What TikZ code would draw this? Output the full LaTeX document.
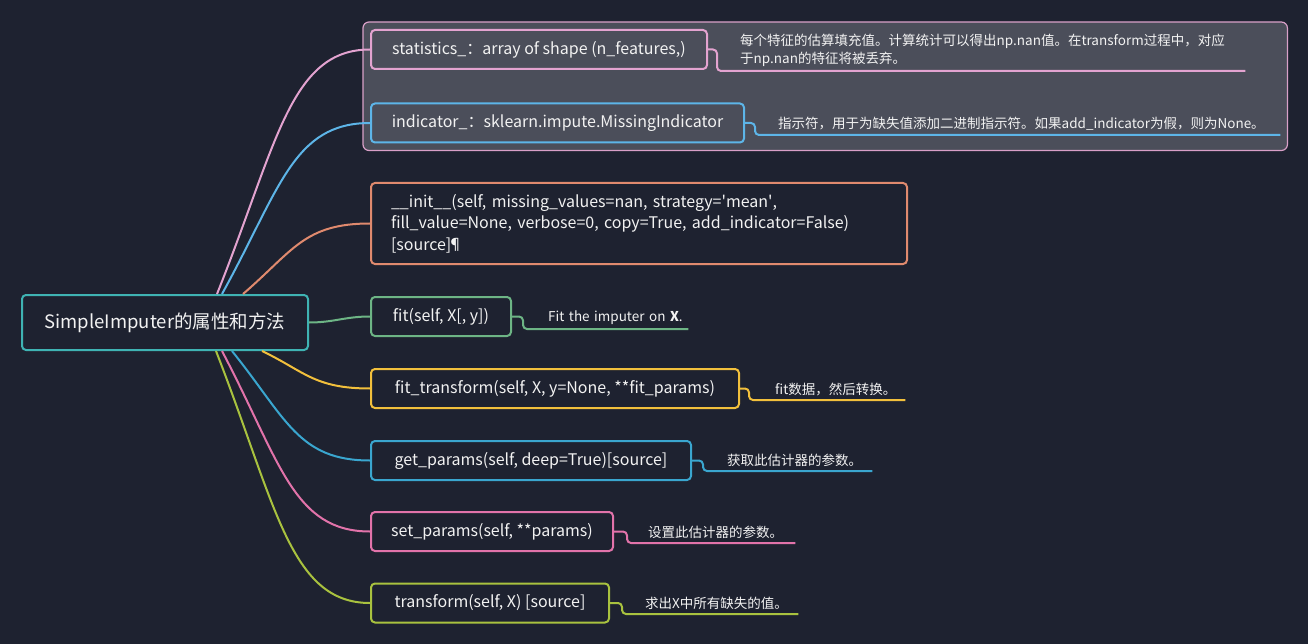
\documentclass[tikz,border=0pt]{standalone}
\usepackage{fontspec}
\setmainfont{Noto Sans CJK SC}
\usepackage{xcolor}
\usetikzlibrary{positioning,fit,backgrounds}

\definecolor{bgcol}{HTML}{1E2230}
\definecolor{groupcol}{HTML}{4B4E5A}
\definecolor{groupline}{HTML}{D9A0C8}
\definecolor{rootline}{HTML}{3FB3B3}
\definecolor{pinkA}{HTML}{E3A3D0}
\definecolor{blueA}{HTML}{5DB5E8}
\definecolor{orangeA}{HTML}{E08A6E}
\definecolor{greenA}{HTML}{6DB585}
\definecolor{yellowA}{HTML}{F2C03C}
\definecolor{blueB}{HTML}{3AA6CF}
\definecolor{pinkB}{HTML}{E273AA}
\definecolor{limeA}{HTML}{A9C23F}
\definecolor{txt}{HTML}{F2F2F2}

\begin{document}
\begin{tikzpicture}[
    x=1pt, y=-1pt,
    root/.style={draw=rootline, line width=2pt, rounded corners=4pt, fill=bgcol,
                 text=txt, font=\fontsize{18.5}{22}\selectfont,
                 minimum width=286pt, minimum height=55pt},
    topic/.style={draw=#1, line width=2pt, rounded corners=4pt, fill=bgcol,
                  text=txt, font=\fontsize{16}{21.5}\selectfont, align=left,
                  inner xsep=20pt, minimum height=39pt, anchor=west},
    note/.style={text=txt, font=\fontsize{13.5}{18}\selectfont, align=left,
                 inner xsep=0pt, inner ysep=4pt, anchor=south west},
    branch/.style={draw=#1, line width=2pt},
    link/.style={draw=#1, line width=2pt, rounded corners=4pt},
  ]
  \useasboundingbox (0,0) rectangle (1308,644);

  % Root
  \node[root] (root) at (165,322.5) {SimpleImputer的属性和方法};

  % Attributes
  \node[topic=pinkA, fill=groupcol, minimum width=336pt] (stat) at (370,49.5)
    {statistics\_：array of shape (n\_features,)};
  \node[topic=blueA, fill=groupcol, minimum width=373pt] (indic) at (370,123)
    {indicator\_：sklearn.impute.MissingIndicator};

  % Methods
  \node[topic=orangeA, text width=496pt, minimum height=81pt] (init) at (370,223.5)
    {\_\_init\_\_(self, missing\_values=nan, strategy=\textquotesingle mean\textquotesingle,\\
     fill\_value=None, verbose=0, copy=True, add\_indicator=False)\\
     {[source]\kern-4pt¶}};
  \node[topic=greenA, minimum width=140pt] (fit) at (370,316.5) {fit(self, X[, y])};
  \node[topic=yellowA, minimum width=368pt] (fittr) at (370,388.5)
    {fit\_transform(self, X, y=None, **fit\_params)};
  \node[topic=blueB, minimum width=320pt] (getp) at (370,460.5)
    {get\_params(self, deep=True)[source]};
  \node[topic=pinkB, minimum width=242pt] (setp) at (370,531.5)
    {set\_params(self, **params)};
  \node[topic=limeA, minimum width=238pt] (trans) at (370,603)
    {transform(self, X) [source]};

  % Notes
  \node[note, text width=505pt] (nstat) at (740,71)
    {每个特征的估算填充值。计算统计可以得出np.nan值。在transform过程中，对应\\于np.nan的特征将被丢弃。};
  \node[note, text width=502pt] (nindic) at (778,135)
    {指示符，用于为缺失值添加二进制指示符。如果add\_indicator为假，则为None。};
  \node[note, text width=140pt] (nfit) at (548,329) {Fit the imputer on \textbf{X}.};
  \node[note, text width=130pt] (nfittr) at (775,400) {fit数据，然后转换。};
  \node[note, text width=145pt] (ngetp) at (727,471) {获取此估计器的参数。};
  \node[note, text width=147pt] (nsetp) at (648,543) {设置此估计器的参数。};
  \node[note, text width=153pt] (ntrans) at (645,614) {求出X中所有缺失的值。};

  % group box and background
  \begin{pgfonlayer}{background}
    \fill[bgcol] (0,0) rectangle (1308,644);
    \node[draw=groupline, line width=1.2pt, fill=groupcol, rounded corners=6pt,
          inner sep=7pt, fit=(stat)(indic)(nstat)(nindic)] (grp) {};
  \end{pgfonlayer}

  % Branches
  \draw[branch=pinkA] ([xshift=52pt]root.north) .. controls +(60,-150) and +(-80,0) .. (stat.west);
  \draw[branch=blueA] ([xshift=57pt]root.north) .. controls +(58,-105) and +(-77,0) .. (indic.west);
  \draw[branch=orangeA] ([xshift=78pt]root.north) .. controls +(50,-43) and +(-66,0) .. (init.west);
  \draw[branch=greenA] (root.east) .. controls +(25,0) and +(-25,0) .. (fit.west);
  \draw[branch=yellowA] ([xshift=97pt]root.south) .. controls +(42,20) and +(-56,0) .. (fittr.west);
  \draw[branch=blueB] ([xshift=67pt]root.south) .. controls +(54,67) and +(-72,0) .. (getp.west);
  \draw[branch=pinkB] ([xshift=57pt]root.south) .. controls +(58,110) and +(-77,0) .. (setp.west);
  \draw[branch=limeA] ([xshift=51pt]root.south) .. controls +(60,154) and +(-80,0) .. (trans.west);

  % Links to notes
  \draw[link=pinkA] (stat.east) -| ([xshift=-23pt]nstat.south west) -- (nstat.south east);
  \draw[link=blueA] (indic.east) -| ([xshift=-23pt]nindic.south west) -- (nindic.south east);
  \draw[link=greenA] (fit.east) -| ([xshift=-25pt]nfit.south west) -- (nfit.south east);
  \draw[link=yellowA] (fittr.east) -| ([xshift=-26pt]nfittr.south west) -- (nfittr.south east);
  \draw[link=blueB] (getp.east) -| ([xshift=-24pt]ngetp.south west) -- (ngetp.south east);
  \draw[link=pinkB] (setp.east) -| ([xshift=-21pt]nsetp.south west) -- (nsetp.south east);
  \draw[link=limeA] (trans.east) -| ([xshift=-23pt]ntrans.south west) -- (ntrans.south east);

\end{tikzpicture}
\end{document}
